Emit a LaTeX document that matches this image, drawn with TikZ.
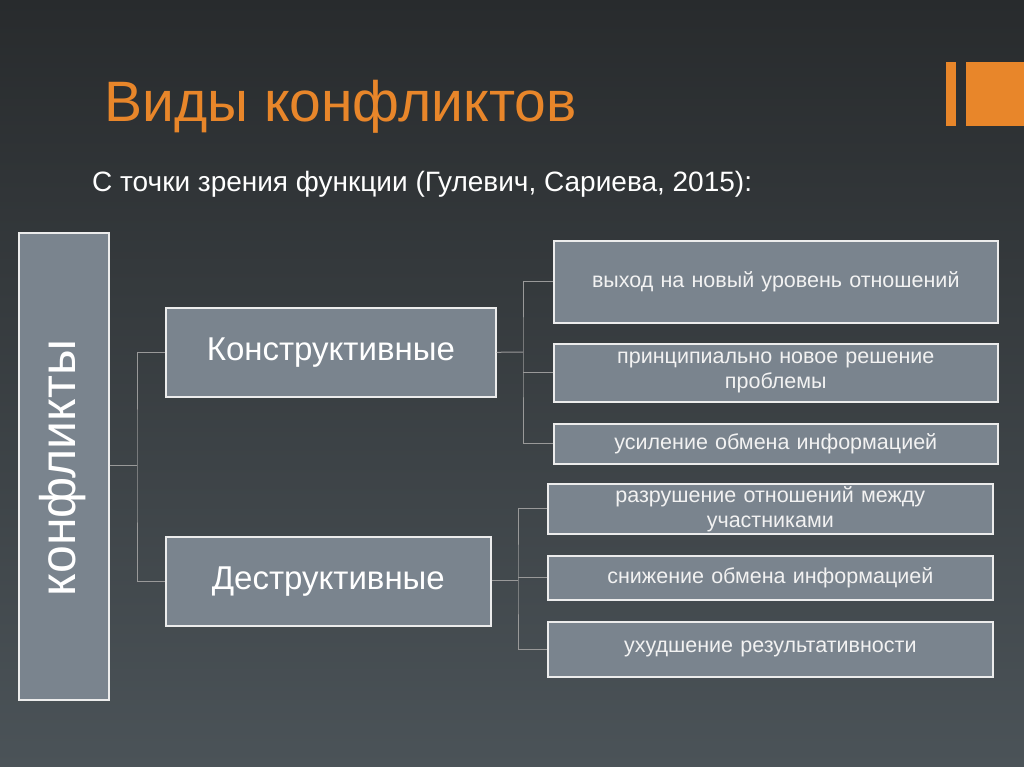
\documentclass[tikz,border=0pt]{standalone}
\usepackage{fontspec}
\setmainfont{Liberation Sans}
\begin{document}
\begin{tikzpicture}[x=1pt,y=-1pt,
 box/.style={draw=white!85!gray,line width=1.6pt,fill=boxc,inner sep=0pt,anchor=north west,text=white,align=center},
 con/.style={draw=gray!80,line width=1pt}]
\definecolor{boxc}{HTML}{7A848E}
\definecolor{org}{HTML}{E8862A}
\shade[top color={rgb,255:red,40;green,43;blue,45},bottom color={rgb,255:red,75;green,83;blue,88}] (0,0) rectangle (1024,767);
\useasboundingbox (0,0) rectangle (1024,767);
\fill[org] (946,62) rectangle (956,126);
\fill[org] (966,62) rectangle (1024,126);
\node[anchor=base west,text=org,font=\fontsize{57}{60}\selectfont,inner sep=0] (t) at (104,122) {Виды конфликтов};
\node[anchor=base west,text=white,font=\fontsize{28}{32}\selectfont,inner sep=0] (s) at (92,192) {С точки зрения функции (Гулевич, Сариева, 2015):};
\node[box,minimum width=90pt,minimum height=467pt] (k) at (18,232) {};
\node[rotate=90,text=white,font=\fontsize{50}{54}\selectfont] (kt) at (63,468) {конфликты};
\node[box,minimum width=330pt,minimum height=89pt,font=\fontsize{33}{36}\selectfont] (c) at (165,307) {Конструктивные};
\node[box,minimum width=325pt,minimum height=89pt,font=\fontsize{33}{36}\selectfont] (d) at (165,536) {Деструктивные};
\begin{scope}[every node/.style={box,font=\fontsize{21.5}{25}\selectfont,text width=440pt,text=white!90!gray}]
\node[minimum width=444pt,minimum height=82pt] (r1) at (553,240) {выход на новый уровень отношений};
\node[minimum width=444pt,minimum height=58pt] (r2) at (553,343) {принципиально новое решение\\проблемы};
\node[minimum width=444pt,minimum height=40pt] (r3) at (553,423) {усиление обмена информацией};
\node[minimum width=445pt,minimum height=50pt] (r4) at (547,483) {разрушение отношений между\\участниками};
\node[minimum width=445pt,minimum height=44pt] (r5) at (547,555) {снижение обмена информацией};
\node[minimum width=445pt,minimum height=55pt] (r6) at (547,621) {ухудшение результативности};
\end{scope}
\coordinate (j0) at (137,465);
\coordinate (j1) at (523,352);
\coordinate (j2) at (518,580);
\draw[con] (k.east |- j0) -- (j0);
\draw[con] (c.west) -| (j0) |- (d.west);
\draw[con] (c.east) -- (j1);
\draw[con] (r1.west) -| (j1) |- (r3.west);
\draw[con] (r2.west) -- (r2.west -| j1);
\draw[con] (d.east |- j2) -- (j2);
\draw[con] (r4.west) -| (j2) |- (r6.west);
\draw[con] (r5.west) -- (r5.west -| j2);
\end{tikzpicture}
\end{document}
